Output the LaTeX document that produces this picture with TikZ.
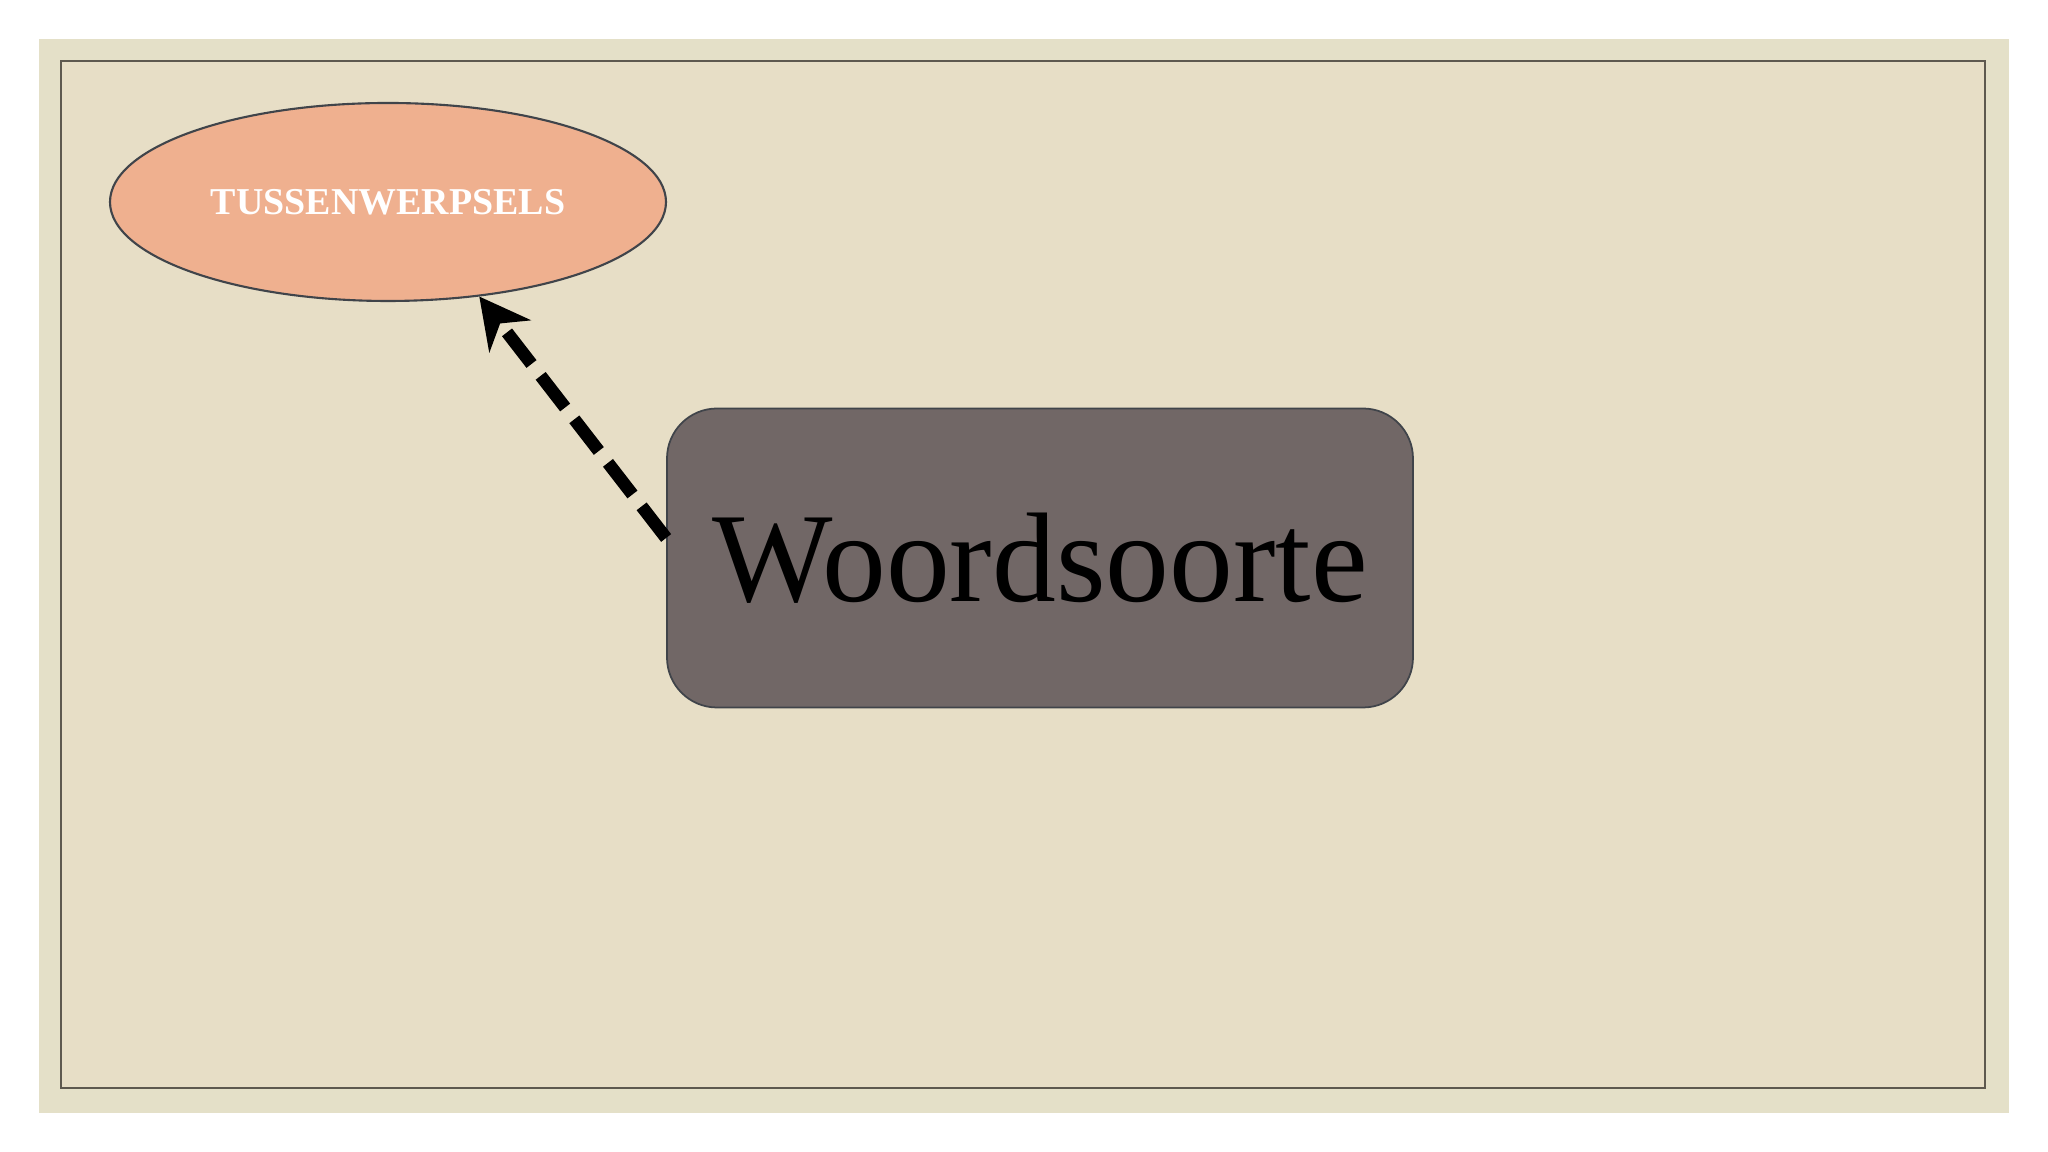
\documentclass[tikz,border=0pt]{standalone}
\usepackage{fontspec}
\setmainfont{Liberation Serif}
\usetikzlibrary{shapes.geometric,arrows.meta}
\definecolor{framebg}{HTML}{E4E0C8}
\definecolor{innerbg}{HTML}{E7DEC6}
\definecolor{framelijn}{HTML}{5E594F}
\definecolor{zalm}{HTML}{EFB08F}
\definecolor{taupe}{HTML}{716766}
\definecolor{randgrijs}{HTML}{40444A}

\begin{document}
\begin{tikzpicture}[
  klasse/.style={ellipse,draw=randgrijs,line width=0.6pt,fill=zalm,minimum width=5.56cm,minimum height=1.98cm,inner sep=0pt,text=white,font=\fontsize{10.8}{12}\selectfont\bfseries},
  hoofd/.style={rectangle,rounded corners=0.5cm,draw=randgrijs,line width=0.5pt,fill=taupe,minimum width=7.46cm,minimum height=2.99cm,inner sep=0pt,font=\fontsize{36.3}{40}\selectfont},
  pijl/.style={line width=3.6pt,dash pattern=on 0.4cm off 0.15cm,-{Stealth[length=5mm,width=5.2mm,inset=1.6mm]}}
]
\fill[white] (0,0) rectangle (20.48,11.52);
\fill[framebg] (0.39,0.39) rectangle (20.09,11.13);
\draw[framelijn,line width=0.5pt,fill=innerbg] (0.61,0.64) rectangle (19.85,10.91);
\node[klasse] (tus) at (3.88,9.50) {TUSSENWERPSELS};
\node[hoofd] (woord) at (10.40,5.94) {Woordsoorte};
\draw[pijl] ([yshift=2mm]woord.west) -- (tus.-46);
\end{tikzpicture}
\end{document}
